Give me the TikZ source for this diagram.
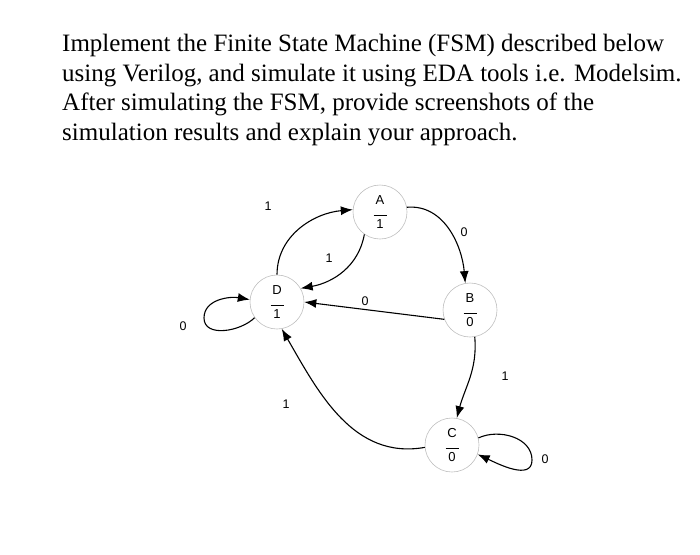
\documentclass[tikz,border=0pt]{standalone}
\usepackage{fontspec}
\setmainfont{Liberation Serif}
\setsansfont{Liberation Sans}
\usetikzlibrary{arrows.meta}
\begin{document}
\begin{tikzpicture}[x=1pt,y=-1pt,
  st/.style={circle,draw=black!25,line width=0.6pt,minimum size=54pt,inner sep=0pt,font=\sffamily\fontsize{13}{14}\selectfont,align=center},
  tr/.style={draw,line width=1.1pt,-{Latex[length=12pt,width=9pt]}},
  lb/.style={font=\sffamily\fontsize{12.5}{13}\selectfont}]
\useasboundingbox (0,0) rectangle (700,554);
\node[anchor=north west,align=left,font=\fontsize{25}{29.5}\selectfont,inner sep=0pt] (txt) at (62,34)
{Implement the Finite State Machine (FSM) described below\\
using Verilog, and simulate it using EDA tools i.e. Modelsim.\\
After simulating the FSM, provide screenshots of the\\
simulation results and explain your approach.};
\node[st] (A) at (380,212) {A\\[-3pt]\rule{13pt}{0.6pt}\\[-1pt]1};
\node[st] (D) at (277,302) {D\\[-3pt]\rule{13pt}{0.6pt}\\[-1pt]1};
\node[st] (B) at (470,310) {B\\[-3pt]\rule{13pt}{0.6pt}\\[-1pt]0};
\node[st] (C) at (452,445) {C\\[-3pt]\rule{13pt}{0.6pt}\\[-1pt]0};
\draw[tr] (D.90) to[out=90,in=185] (A.175);
\draw[tr] (A.235) to[out=260,in=10] (D.30);
\draw[tr] (A.10) to[out=5,in=95] (B.100);
\draw[tr] (B.200) -- (D.0);
\draw[tr] (B.280) to[out=275,in=75] (C.80);
\draw[tr] (C.185) to[out=190,in=300] (D.280);
\draw[tr] (D.215) to[out=225,in=270] (204,318) to[out=90,in=170] (D.175);
\draw[tr] (C.15) to[out=25,in=90] (532,460) to[out=270,in=-25] (C.340);
\node[lb] (l1) at (268,206) {1};
\node[lb] (l2) at (329,258) {1};
\node[lb] (l3) at (464,232) {0};
\node[lb] (l4) at (365,301) {0};
\node[lb] (l5) at (505,376) {1};
\node[lb] (l6) at (286,404) {1};
\node[lb] (l7) at (183,326) {0};
\node[lb] (l8) at (545,459) {0};
\end{tikzpicture}
\end{document}
